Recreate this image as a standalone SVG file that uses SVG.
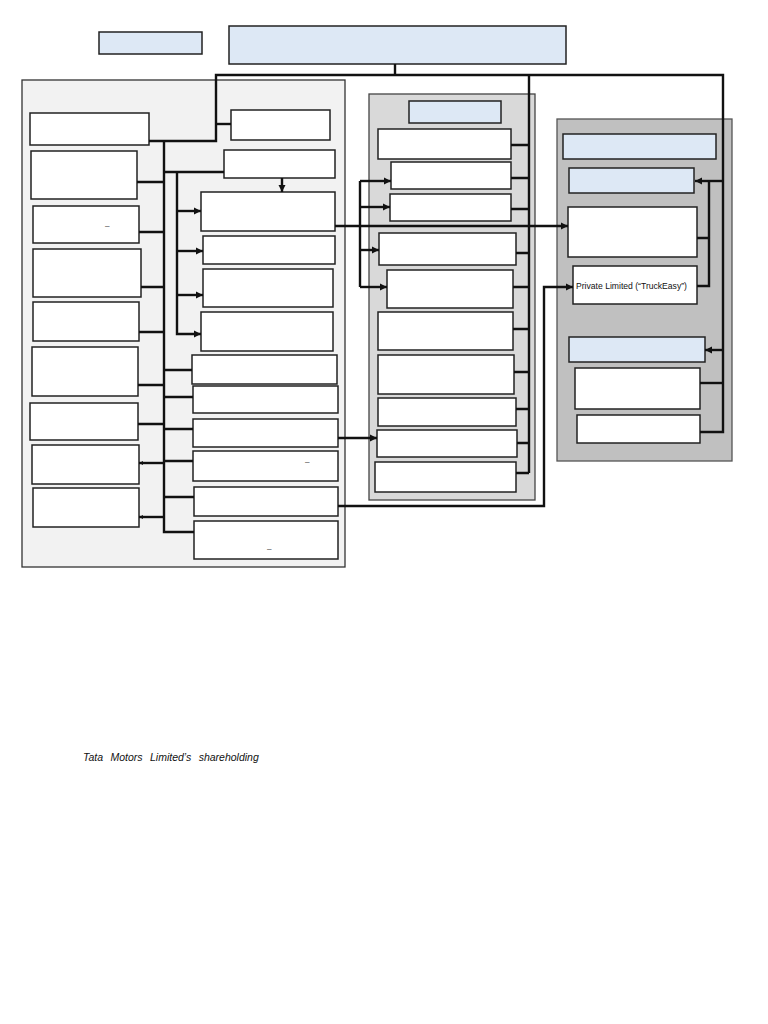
<svg xmlns="http://www.w3.org/2000/svg" width="768" height="1024" viewBox="0 0 768 1024">
<style>
.bg{fill:#ffffff}
.pl{fill:#f2f2f2;stroke:#333;stroke-width:1.3}
.pm{fill:#d9d9d9;stroke:#444;stroke-width:1.3}
.pr{fill:#c0c0c0;stroke:#555;stroke-width:1.3}
.b{fill:#ffffff;stroke:#222;stroke-width:1.5}
.h{fill:#dde8f5;stroke:#222;stroke-width:1.5}
.c{fill:none;stroke:#111;stroke-width:2.4}
.t{font-family:"Liberation Sans",Arial,sans-serif;fill:#111}
</style>
<defs>
<marker id="ar" markerUnits="userSpaceOnUse" markerWidth="8" markerHeight="8" refX="7" refY="4" orient="auto">
<path d="M0,0.5 L7,4 L0,7.5 z" fill="#111"/>
</marker>
<marker id="ars" markerUnits="userSpaceOnUse" markerWidth="5" markerHeight="5" refX="4" refY="2.5" orient="auto">
<path d="M0,0.5 L4,2.5 L0,4.5 z" fill="#111"/>
</marker>
</defs>
<rect class="bg" x="0" y="0" width="768" height="1024"/>

<g id="panels">
<rect id="panel-left" class="pl" x="22" y="80" width="323" height="487"/>
<rect id="panel-mid" class="pm" x="369" y="94" width="166" height="406"/>
<rect id="panel-right" class="pr" x="557" y="119" width="175" height="342"/>
</g>

<g id="top-small"><rect class="h" x="99" y="32" width="103" height="22"/></g>
<g id="top-main"><rect class="h" x="229" y="26" width="337" height="38"/></g>

<g id="left-col">
<g id="l1"><rect class="b" x="30" y="113" width="119" height="32"/></g>
<g id="l2"><rect class="b" x="31" y="151" width="106" height="48"/></g>
<g id="l3"><rect class="b" x="33" y="206" width="106" height="37"/><text class="t" x="105" y="228" font-size="8">–</text></g>
<g id="l4"><rect class="b" x="33" y="249" width="108" height="48"/></g>
<g id="l5"><rect class="b" x="33" y="302" width="106" height="39"/></g>
<g id="l6"><rect class="b" x="32" y="347" width="106" height="49"/></g>
<g id="l7"><rect class="b" x="30" y="403" width="108" height="37"/></g>
<g id="l8"><rect class="b" x="32" y="445" width="107" height="39"/></g>
<g id="l9"><rect class="b" x="33" y="488" width="106" height="39"/></g>
</g>

<g id="left-right-col">
<g id="rA"><rect class="b" x="231" y="110" width="99" height="30"/></g>
<g id="rB"><rect class="b" x="224" y="150" width="111" height="28"/></g>
<g id="rC"><rect class="b" x="201" y="192" width="134" height="39"/></g>
<g id="rD"><rect class="b" x="203" y="236" width="132" height="28"/></g>
<g id="rE"><rect class="b" x="203" y="269" width="130" height="38"/></g>
<g id="rF"><rect class="b" x="201" y="312" width="132" height="39"/></g>
<g id="rG"><rect class="b" x="192" y="355" width="145" height="29"/></g>
<g id="rH"><rect class="b" x="193" y="386" width="145" height="27"/></g>
<g id="rI"><rect class="b" x="193" y="419" width="145" height="28"/></g>
<g id="rJ"><rect class="b" x="193" y="451" width="145" height="30"/><text class="t" x="305" y="464" font-size="8">–</text></g>
<g id="rK"><rect class="b" x="194" y="487" width="144" height="29"/></g>
<g id="rL"><rect class="b" x="194" y="521" width="144" height="38"/><text class="t" x="267" y="551" font-size="8">–</text></g>
</g>

<g id="mid-col">
<g id="m0"><rect class="h" x="409" y="101" width="92" height="22"/></g>
<g id="m1"><rect class="b" x="378" y="129" width="133" height="30"/></g>
<g id="m2"><rect class="b" x="391" y="162" width="120" height="27"/></g>
<g id="m3"><rect class="b" x="390" y="194" width="121" height="27"/></g>
<g id="m4"><rect class="b" x="379" y="233" width="137" height="32"/></g>
<g id="m5"><rect class="b" x="387" y="270" width="126" height="38"/></g>
<g id="m6"><rect class="b" x="378" y="312" width="135" height="38"/></g>
<g id="m7"><rect class="b" x="378" y="355" width="136" height="39"/></g>
<g id="m8"><rect class="b" x="378" y="398" width="138" height="28"/></g>
<g id="m9"><rect class="b" x="377" y="430" width="140" height="27"/></g>
<g id="m10"><rect class="b" x="375" y="462" width="141" height="30"/></g>
</g>

<g id="right-col">
<g id="q0"><rect class="h" x="563" y="134" width="153" height="25"/></g>
<g id="q1"><rect class="h" x="569" y="168" width="125" height="25"/></g>
<g id="q2"><rect class="b" x="568" y="207" width="129" height="50"/></g>
<g id="q3"><rect class="b" x="573" y="266" width="124" height="38"/><text class="t" x="576" y="289" font-size="8.6">Private Limited (“TruckEasy”)</text></g>
<g id="q4"><rect class="h" x="569" y="337" width="136" height="25"/></g>
<g id="q5"><rect class="b" x="575" y="368" width="125" height="41"/></g>
<g id="q6"><rect class="b" x="577" y="415" width="123" height="28"/></g>
</g>

<g id="connectors">
<path class="c" d="M395,64 V75"/>
<path class="c" d="M149,141 H216 V75 H723 V432 H700"/>
<path class="c" d="M217,124 H231"/>
<path class="c" d="M164,141 V532 H194"/>
<path class="c" d="M137,182 H164 M139,232 H164 M141,287 H164 M139,332 H164 M138,385 H164 M138,424 H164"/>
<path class="c" d="M164,463 H139" marker-end="url(#ars)"/>
<path class="c" d="M164,517 H139" marker-end="url(#ars)"/>
<path class="c" d="M164,370 H192 M164,397 H193 M164,429 H193 M164,461 H193 M164,497 H194"/>
<path class="c" d="M164,172 H224"/>
<path class="c" d="M177,172 V334 H201" marker-end="url(#ar)"/>
<path class="c" d="M177,211 H201" marker-end="url(#ar)"/>
<path class="c" d="M177,251 H203" marker-end="url(#ar)"/>
<path class="c" d="M177,295 H203" marker-end="url(#ar)"/>
<path class="c" d="M282,178 V192" marker-end="url(#ar)"/>
<path class="c" d="M335,226 H568" marker-end="url(#ar)"/>
<path class="c" d="M338,438 H377" marker-end="url(#ar)"/>
<path class="c" d="M338,506 H544 V287 H573" marker-end="url(#ar)"/>
<path class="c" d="M360,181 V287"/>
<path class="c" d="M360,181 H391" marker-end="url(#ar)"/>
<path class="c" d="M360,207 H390" marker-end="url(#ar)"/>
<path class="c" d="M360,250 H379" marker-end="url(#ar)"/>
<path class="c" d="M360,287 H387" marker-end="url(#ar)"/>
<path class="c" d="M529,75 V473"/>
<path class="c" d="M511,145 H529 M511,178 H529 M511,209 H529 M516,253 H529 M513,287 H529 M513,329 H529 M514,372 H529 M516,409 H529 M517,443 H529 M516,473 H529"/>
<path class="c" d="M723,181 H695" marker-end="url(#ar)"/>
<path class="c" d="M709,182 V286 H697 M697,238 H709"/>
<path class="c" d="M723,350 H705" marker-end="url(#ar)"/>
<path class="c" d="M700,383 H723"/>
</g>

<text class="t" x="83" y="761" font-size="10.5" font-style="italic" word-spacing="4.5">Tata Motors Limited’s shareholding</text>
</svg>
